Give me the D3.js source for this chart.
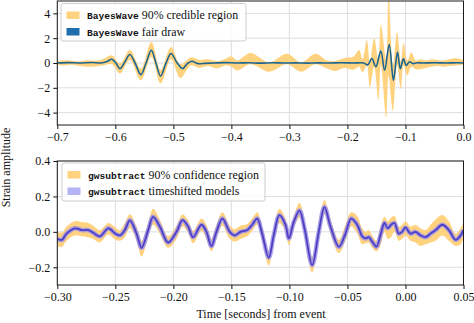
<!DOCTYPE html>
<html>
<head>
<meta charset="utf-8">
<script src="https://cdn.jsdelivr.net/npm/d3@7"></script>
<style>
  body { margin: 0; background: #fff; }
  svg { display: block; }
  .tick text { font-family: "Liberation Serif", serif; font-size: 12px; fill: #111; }
  .tick line { stroke: #111; }
  .leg-code { font-family: "Liberation Mono", monospace; font-weight: bold; font-size: 9.6px; }
  .leg-label { font-family: "Liberation Serif", serif; font-size: 11.9px; }
</style>
</head>
<body>
<svg id="chart" width="474" height="323"></svg>
<script>
// top panel: BayesWave
const topXTicks = [-0.7, -0.6, -0.5, -0.4, -0.3, -0.2, -0.1, 0.0];
const topYTicks = [-4, -2, 0, 2, 4];

const topLineT = [-0.700, -0.680, -0.660, -0.640, -0.625, -0.615, -0.606, -0.599, -0.592, -0.584,
  -0.575, -0.566, -0.556, -0.547, -0.538, -0.530, -0.522, -0.513, -0.504, -0.494,
  -0.484, -0.476, -0.468, -0.458, -0.445, -0.430, -0.410, -0.390, -0.370, -0.350,
  -0.330, -0.310, -0.290, -0.270, -0.250, -0.230, -0.210, -0.190, -0.172, -0.165,
  -0.158, -0.151, -0.1425, -0.136, -0.128, -0.1207, -0.1138, -0.109, -0.1034, -0.0988,
  -0.093, -0.087, -0.080, -0.070, -0.050, -0.030, -0.010, 0.000];
const topLineV = [0.00, 0.03, 0.00, 0.04, 0.00, 0.10, 0.30, 0.00, -0.45, 0.05,
  0.68, 0.00, -0.94, 0.00, 1.03, 0.00, -1.05, -0.05, 0.76, 0.05,
  -0.45, -0.05, 0.14, -0.05, -0.03, 0.00, 0.03, 0.00, 0.02, -0.01,
  0.02, 0.00, 0.01, -0.01, 0.01, 0.00, 0.02, 0.00, 0.00, -0.15,
  0.36, -0.30, 0.97, -0.59, 1.49, -1.40, 0.89, -0.46, 0.35, -0.19,
  0.10, -0.05, 0.02, 0.00, 0.02, 0.00, 0.02, 0.00];

const topBandT = [-0.700, -0.690, -0.678, -0.665, -0.650, -0.635, -0.622, -0.606, -0.592, -0.575,
  -0.556, -0.538, -0.522, -0.504, -0.488, -0.470, -0.455, -0.440, -0.425, -0.410,
  -0.400, -0.390, -0.367, -0.335, -0.304, -0.280, -0.255, -0.235, -0.222, -0.205,
  -0.190, -0.180, -0.174, -0.1666, -0.1614, -0.154, -0.1466, -0.1424, -0.1333, -0.1293,
  -0.1217, -0.1145, -0.108, -0.1034, -0.0966, -0.090, -0.082, -0.075, -0.065, -0.055,
  -0.045, -0.035, -0.025, -0.012, 0.000];
const topBandLo = [-0.15, -0.22, -0.15, -0.22, -0.30, -0.28, -0.20, -0.10, -0.85, 0.25,
  -1.40, 0.50, -1.65, 0.30, -1.20, -0.20, -0.40, -0.25, -0.45, -0.20,
  -0.30, -0.60, -0.10, -0.70, -0.10, -0.70, -0.10, -0.45, -0.65, -0.40,
  -0.55, -0.30, -0.75, -0.20, -1.95, -0.30, -3.00, -0.10, -4.40, -1.00,
  -3.85, -0.10, -2.10, -0.20, -1.00, -0.30, -0.50, -0.50, -0.40, -0.30,
  -0.25, -0.30, -0.25, -0.20, -0.15];
const topBandHi = [0.15, 0.22, 0.20, 0.12, 0.22, 0.18, 0.30, 0.62, -0.05, 1.05,
  -0.45, 1.70, -0.55, 1.30, -0.10, 0.45, 0.25, 0.30, 0.15, 0.35,
  0.55, 0.20, 0.80, 0.05, 0.75, 0.05, 0.75, 0.20, 0.15, 0.40,
  0.50, 1.05, 0.30, 1.85, 0.10, 2.00, 0.20, 3.10, 0.30, 5.80,
  -0.20, 2.50, 0.10, 1.60, 0.20, 0.85, 0.20, 0.30, 0.20, 0.30,
  0.25, 0.20, 0.30, 0.38, 0.25];

// bottom panel: gwsubtract
const botXTicks = [-0.30, -0.25, -0.20, -0.15, -0.10, -0.05, 0.00, 0.05];
const botYTicks = [-0.2, 0.0, 0.2, 0.4];

const botT = [-0.300, -0.296, -0.292, -0.2848, -0.279, -0.2733, -0.269, -0.2633, -0.256, -0.250,
  -0.246, -0.2418, -0.2375, -0.2317, -0.2274, -0.2217, -0.2174, -0.2117, -0.2045, -0.1973,
  -0.1921, -0.1873, -0.183, -0.1758, -0.1715, -0.1672, -0.1629, -0.1577, -0.1514, -0.1471,
  -0.1422, -0.1364, -0.1321, -0.1278, -0.1235, -0.1178, -0.1135, -0.1086, -0.1034, -0.1005,
  -0.0962, -0.0913, -0.0867, -0.0804, -0.0747, -0.0698, -0.0646, -0.0574, -0.0517, -0.0468,
  -0.0416, -0.0373, -0.0345, -0.0316, -0.0287, -0.025, -0.0216, -0.0181, -0.0153, -0.0124,
  -0.0095, -0.0058, -0.0029, 0.000, 0.0043, 0.0086, 0.013, 0.0173, 0.0216, 0.026,
  0.0317, 0.0374, 0.0432, 0.0475, 0.050];
const botV = [-0.04, -0.045, -0.01, 0.02, 0.01, 0.01, -0.005, -0.025, 0.02, -0.01,
  -0.02, 0.01, 0.065, -0.01, -0.09, 0.01, 0.085, 0.03, -0.06, 0.00,
  0.066, 0.03, -0.03, 0.04, 0.00, -0.08, 0.00, 0.075, 0.00, -0.02,
  0.00, 0.01, 0.04, 0.075, -0.01, -0.145, -0.02, 0.094, 0.04, -0.037,
  0.056, 0.12, 0.01, -0.187, 0.00, 0.14, 0.03, -0.084, -0.01, 0.075,
  0.04, -0.025, -0.037, -0.03, -0.055, -0.084, -0.02, 0.05, 0.02, 0.04,
  0.05, -0.01, 0.00, 0.025, -0.01, 0.00, -0.02, -0.03, -0.01, 0.01,
  0.04, 0.01, -0.045, -0.02, 0.01];
const botLo = [-0.08, -0.085, -0.05, -0.02, -0.025, -0.03, -0.04, -0.06, -0.015, -0.045,
  -0.05, -0.03, 0.02, -0.05, -0.14, -0.03, 0.04, -0.01, -0.09, -0.04,
  0.03, -0.005, -0.065, 0.005, -0.04, -0.11, -0.04, 0.035, -0.04, -0.055,
  -0.04, -0.025, 0.005, 0.04, -0.05, -0.19, -0.06, 0.05, 0.00, -0.075,
  0.02, 0.08, -0.03, -0.23, -0.04, 0.10, -0.01, -0.12, -0.05, 0.03,
  -0.01, -0.07, -0.065, -0.06, -0.09, -0.11, -0.08, 0.00, -0.04, -0.03,
  0.00, -0.05, -0.04, -0.02, -0.05, -0.06, -0.08, -0.07, -0.06, -0.05,
  -0.02, -0.05, -0.08, -0.07, -0.03];
const botHi = [0.00, -0.005, 0.03, 0.06, 0.055, 0.05, 0.035, 0.01, 0.05, 0.025,
  0.01, 0.05, 0.10, 0.03, -0.05, 0.05, 0.13, 0.07, -0.025, 0.035,
  0.10, 0.065, 0.005, 0.075, 0.04, -0.04, 0.04, 0.11, 0.035, 0.015,
  0.035, 0.045, 0.075, 0.11, 0.03, -0.105, 0.02, 0.13, 0.075, 0.00,
  0.09, 0.165, 0.05, -0.14, 0.04, 0.18, 0.07, -0.045, 0.04, 0.11,
  0.09, 0.02, 0.00, 0.01, -0.02, -0.05, 0.03, 0.085, 0.06, 0.08,
  0.09, 0.03, 0.04, 0.06, 0.03, 0.04, 0.02, 0.01, 0.04, 0.07,
  0.095, 0.06, -0.01, 0.02, 0.05];

const bandColor = "#ffd27f";
const svg = d3.select("#chart");
const left = 57.3, right = 463.5;

function panel(id, top, bottom, xDomain, yDomain, xTicks, yTicks, xFmt, yFmt) {
  let x = d3.scaleLinear().domain(xDomain).range([left, right]);
  let y = d3.scaleLinear().domain(yDomain).range([bottom, top]);
  let g = svg.append("g");

  svg.append("clipPath").attr("id", id)
    .append("rect").attr("x", left).attr("y", top)
    .attr("width", right - left).attr("height", bottom - top);

  // grid
  g.selectAll(".gx").data(xTicks).enter().append("line")
    .attr("x1", d => x(d)).attr("x2", d => x(d))
    .attr("y1", top).attr("y2", bottom)
    .attr("stroke", "#dedede").attr("stroke-width", 1);
  g.selectAll(".gy").data(yTicks).enter().append("line")
    .attr("x1", left).attr("x2", right)
    .attr("y1", d => y(d)).attr("y2", d => y(d))
    .attr("stroke", "#dedede").attr("stroke-width", 1);

  let xAxis = d3.axisBottom(x).tickValues(xTicks).tickSize(4).tickPadding(3).tickFormat(d3.format(xFmt));
  let yAxis = d3.axisLeft(y).tickValues(yTicks).tickSize(4).tickPadding(3).tickFormat(d3.format(yFmt));
  g.append("g").attr("transform", `translate(0,${bottom})`).call(xAxis)
    .call(a => a.select(".domain").remove());
  g.append("g").attr("transform", `translate(${left},0)`).call(yAxis)
    .call(a => a.select(".domain").remove());

  let plot = g.append("g").attr("clip-path", `url(#${id})`);
  return { x, y, g, plot, top, bottom };
}

function frame(p) {
  p.g.append("rect")
    .attr("x", left).attr("y", p.top)
    .attr("width", right - left).attr("height", p.bottom - p.top)
    .attr("fill", "none").attr("stroke", "#1a1a1a").attr("stroke-width", 1);
}

function legend(lx, ly, w, h, items) {
  let lg = svg.append("g");
  lg.append("rect").attr("x", lx).attr("y", ly).attr("width", w).attr("height", h)
    .attr("rx", 2).attr("fill", "#fff").attr("fill-opacity", 0.85)
    .attr("stroke", "#cccccc").attr("stroke-width", 1);
  items.forEach((it, i) => {
    let cy = ly + 12 + i * 16.5;
    lg.append("rect").attr("x", lx + 5.5).attr("y", cy - 4)
      .attr("width", 13).attr("height", 7.5).attr("fill", it.color);
    let t = lg.append("text").attr("x", lx + 26).attr("y", cy + 3.6)
      .style("white-space", "pre").attr("fill", "#111");
    t.append("tspan").attr("class", "leg-code").text(it.code);
    t.append("tspan").attr("class", "leg-label").text(" " + it.label);
  });
}

// ---- top
let p1 = panel("clipTop", 1, 125, [-0.7, 0.0], [-5, 5], topXTicks, topYTicks, ".1f", "d");

let band1 = topBandT.map((t, i) => ({ t, lo: topBandLo[i], hi: topBandHi[i] }));
p1.plot.append("path").datum(band1)
  .attr("fill", bandColor)
  .attr("d", d3.area().curve(d3.curveCatmullRom)
    .x(d => p1.x(d.t)).y0(d => p1.y(d.lo)).y1(d => p1.y(d.hi)));

let line1 = topLineT.map((t, i) => ({ t, v: topLineV[i] }));
p1.plot.append("path").datum(line1)
  .attr("fill", "none").attr("stroke", "#1b6591").attr("stroke-width", 1.6)
  .attr("d", d3.line().curve(d3.curveCatmullRom).x(d => p1.x(d.t)).y(d => p1.y(d.v)));
frame(p1);

// ---- bottom
let p2 = panel("clipBot", 161, 285, [-0.30, 0.05], [-0.3, 0.4], botXTicks, botYTicks, ".2f", ".1f");

let band2 = botT.map((t, i) => ({ t, lo: botLo[i], hi: botHi[i] }));
p2.plot.append("path").datum(band2)
  .attr("fill", bandColor)
  .attr("d", d3.area().curve(d3.curveCatmullRom)
    .x(d => p2.x(d.t)).y0(d => p2.y(d.lo)).y1(d => p2.y(d.hi)));

let line2 = botT.map((t, i) => ({ t, v: botV[i] }));
let lineGen2 = d3.line().curve(d3.curveCatmullRom).x(d => p2.x(d.t)).y(d => p2.y(d.v));
p2.plot.append("path").datum(line2)
  .attr("fill", "none").attr("stroke", "#9c94ea").attr("stroke-width", 4.5)
  .attr("stroke-opacity", 0.85).attr("d", lineGen2);
p2.plot.append("path").datum(line2)
  .attr("fill", "none").attr("stroke", "#4d3ec6").attr("stroke-width", 1.8)
  .attr("d", lineGen2);
frame(p2);

legend(61, 3.5, 185, 37.5, [
  { code: "BayesWave", label: "90% credible region", color: bandColor },
  { code: "BayesWave", label: "fair draw", color: "#1f6fae" }
]);
legend(62, 163, 203, 38, [
  { code: "gwsubtract", label: "90% confidence region", color: bandColor },
  { code: "gwsubtract", label: "timeshifted models", color: "#b4b4f5" }
]);

// axis titles
svg.append("text")
  .attr("transform", "translate(10,167.5) rotate(-90)")
  .attr("text-anchor", "middle")
  .style("font-family", "Liberation Serif, serif").style("font-size", "12px")
  .attr("fill", "#111").text("Strain amplitude");
svg.append("text")
  .attr("x", 261).attr("y", 318)
  .attr("text-anchor", "middle")
  .style("font-family", "Liberation Serif, serif").style("font-size", "12px")
  .attr("fill", "#111").text("Time [seconds] from event");
</script>
</body>
</html>
